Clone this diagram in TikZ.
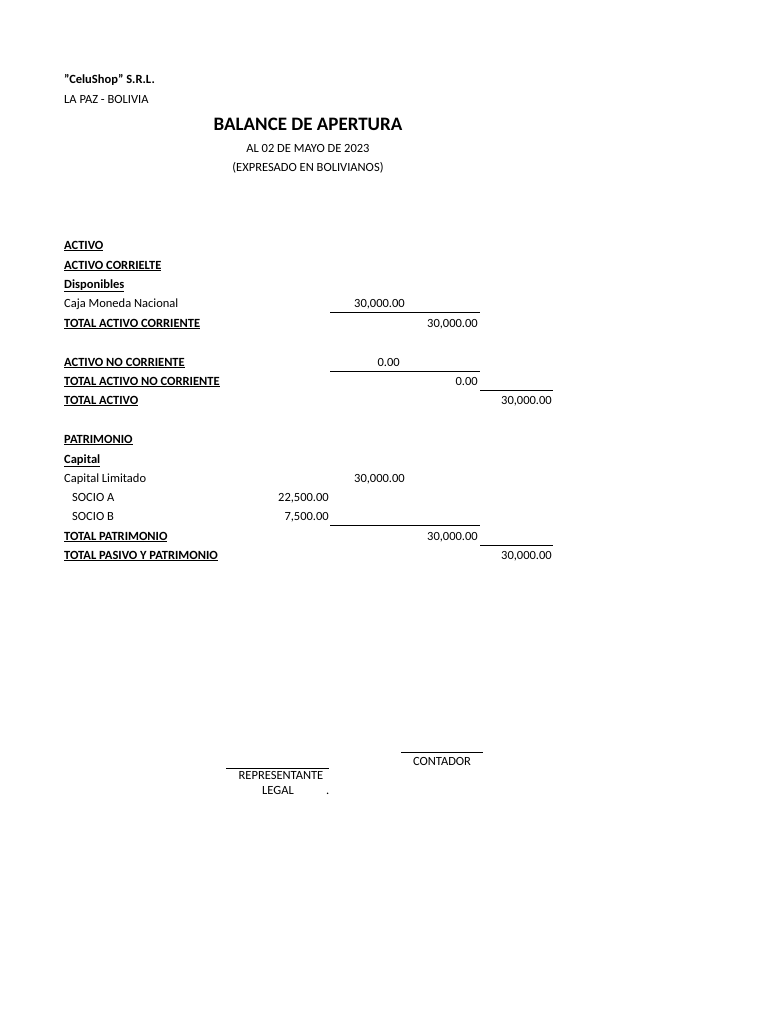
\documentclass[tikz,border=0pt]{standalone}
\usepackage{fontspec}
\setmainfont{Carlito}
\begin{document}
\begin{tikzpicture}[x=1pt,y=-1pt,
  lbl/.style={anchor=base west,inner sep=0pt,font=\fontsize{12.5}{14}\selectfont},
  num/.style={anchor=base east,inner sep=0pt,font=\fontsize{12.5}{14}\selectfont},
  ctr/.style={anchor=base,inner sep=0pt,font=\fontsize{12.5}{14}\selectfont},
  rule/.style={line width=0.8pt}]
\useasboundingbox (0,0) rectangle (768,1024);
\node[lbl] (t1) at (64,84) {\textbf{"CeluShop" S.R.L.}};
\node[lbl] (t2) at (64,104) {LA PAZ - BOLIVIA};
\node[ctr,font=\fontsize{19}{22}\selectfont] (t3) at (308,131) {\textbf{BALANCE DE APERTURA}};
\node[ctr] (t4) at (308,153) {AL 02 DE MAYO DE 2023};
\node[ctr] (t5) at (308,172) {(EXPRESADO EN BOLIVIANOS)};
\node[lbl] (a1) at (64,249) {\textbf{\underline{ACTIVO}}};
\node[lbl] (a2) at (64,269) {\textbf{\underline{ACTIVO CORRIELTE}}};
\node[lbl] (a3) at (64,288) {\textbf{\underline{Disponibles}}};
\node[lbl] (a4) at (64,307) {Caja Moneda Nacional};
\node[num] (n4) at (405,307) {30,000.00};
\node[lbl] (a5) at (64,327) {\textbf{\underline{TOTAL ACTIVO CORRIENTE}}};
\node[num] (n5) at (478,327) {30,000.00};
\node[lbl] (a6) at (64,366) {\textbf{\underline{ACTIVO NO CORRIENTE}}};
\node[num] (n6) at (400,366) {0.00};
\node[lbl] (a7) at (64,385) {\textbf{\underline{TOTAL ACTIVO NO CORRIENTE}}};
\node[num] (n7) at (478,385) {0.00};
\node[lbl] (a8) at (64,404) {\textbf{\underline{TOTAL ACTIVO}}};
\node[num] (n8) at (552,404) {30,000.00};
\node[lbl] (p1) at (64,443) {\textbf{\underline{PATRIMONIO}}};
\node[lbl] (p2) at (64,463) {\textbf{\underline{Capital}}};
\node[lbl] (p3) at (64,482) {Capital Limitado};
\node[num] (m3) at (405,482) {30,000.00};
\node[lbl] (p4) at (72,501) {SOCIO A};
\node[num] (m4) at (329,501) {22,500.00};
\node[lbl] (p5) at (72,520) {SOCIO B};
\node[num] (m5) at (329,520) {7,500.00};
\node[lbl] (p6) at (64,540) {\textbf{\underline{TOTAL PATRIMONIO}}};
\node[num] (m6) at (478,540) {30,000.00};
\node[lbl] (p7) at (64,559) {\textbf{\underline{TOTAL PASIVO Y PATRIMONIO}}};
\node[num] (m7) at (552,559) {30,000.00};
\draw[rule] (330,312) -- (480,312);
\draw[rule] (330,371) -- (480,371);
\draw[rule] (480,390) -- (553,390);
\draw[rule] (330,525) -- (480,525);
\draw[rule] (480,545) -- (553,545);
\draw[rule] (226,768) -- (329,768);
\node[ctr] (s1) at (281,779) {REPRESENTANTE};
\node[lbl] (s2) at (262,794) {LEGAL};
\node[lbl] (s3) at (326,794) {.};
\draw[rule] (401,752) -- (483,752);
\node[ctr] (s4) at (442,765) {CONTADOR};
\end{tikzpicture}
\end{document}
